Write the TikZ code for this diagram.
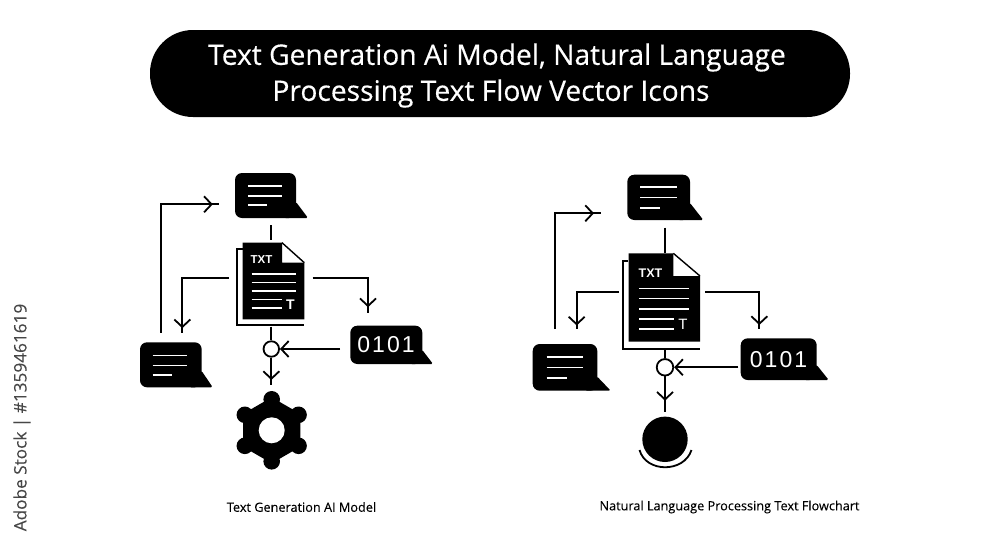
\documentclass[tikz,border=0pt]{standalone}
\usepackage{fontspec}
\setmainfont{Open Sans}
\usetikzlibrary{arrows.meta,decorations.markings}
\newfontfamily\iconfont{Liberation Sans}
\newfontfamily\bitfont[LetterSpace=9]{Liberation Sans}
\newfontfamily\titlefont[FakeBold=0.35]{Open Sans}
\newfontfamily\capfont[FakeBold=0.15]{Open Sans}
\tikzset{
    link/.style={line width=1.8pt},
    barb/.style={link,-{Straight Barb[length=7.5pt,width=16pt]}},
    midbarb/.style={link,decoration={markings,
        mark=at position #1 with {\arrow{Straight Barb[length=7.5pt,width=16pt]}}},
        postaction={decorate}},
    rule/.style={white,line width=1.6pt},
    bubblebody/.style={fill=black,rounded corners=7pt,inner sep=0pt,outer sep=0pt},
    hub/.style={circle,draw,fill=white,line width=1.8pt,inner sep=0pt},
    titleline/.style={text=white,inner sep=0pt,font=\titlefont\fontsize{28.2}{34}\selectfont},
    caption/.style={inner sep=0pt,font=\capfont\fontsize{12.7}{15}\selectfont}
}
\newcommand{\chatbox}[7]{
    \node[bubblebody,minimum width={#4-#2},minimum height={#5-#3}] (#1) at ({(#2+#4)/2},{(#3+#5)/2}) {};
    \fill[rounded corners=1.5pt] (#4,#7) -- (#6,#5) -- (#4-12,#5) -- (#4-12,#7) -- cycle;
}
\begin{document}
\begin{tikzpicture}[x=1pt,y=-1pt]
    \useasboundingbox (0,0) rectangle (1000,546);
    \node[fill=black,minimum width=700pt,minimum height=87pt,rounded corners=43pt] (title) at (500,73.5) {};
    \node[titleline] (titleA) at (497,57.5) {Text Generation Ai Model, Natural Language};
    \node[titleline] (titleB) at (491,93.5) {Processing Text Flow Vector Icons};
    \node[rotate=90,text=black!72,font=\capfont\fontsize{17.2}{19}\selectfont,inner sep=0pt] (stock) at (22,417.5) {Adobe Stock | \#1359461619};

    \chatbox{topL}{235}{173}{296}{218}{308}{202}
    \foreach \y/\e in {186/282,196/282,205/267}
        \draw[rule] (248,\y) -- (\e,\y);
    \chatbox{lowL}{140}{342.3}{201.7}{387.3}{212.7}{371}
    \foreach \y/\e in {355.3/187.3,365.3/187.3,375/172}
        \draw[rule] (152.7,\y) -- (\e,\y);
    \chatbox{binL}{350.3}{325.7}{422.3}{364}{433}{350}
    \node[white,font=\bitfont\fontsize{23}{24}\selectfont,inner sep=0pt] (bitsL) at (386,345) {0101};

    \draw[link] (242.7,249) -- (237.3,249) -- (237.3,325) -- (304,325);
    \fill (242.7,242.7) -- (282,242.7) -- (282,262.7) -- (304.3,262.7) -- (304.3,319.3) -- (242.7,319.3) -- cycle;
    \draw[line width=1.4pt] (282,242.7) -- (304.3,262.7);
    \node[white,font=\iconfont\bfseries\fontsize{11.5}{12}\selectfont,inner sep=0pt] (txtL) at (261.5,260) {TXT};
    \foreach \y/\e in {273.7/295.7,282.3/295.7,291/295.7,299.3/281.7,308/281.7}
        \draw[rule] (251.7,\y) -- (\e,\y);
    \node[white,font=\iconfont\bfseries\fontsize{14}{14}\selectfont,inner sep=0pt] (tL) at (290.3,304.5) {T};

    \node[hub,minimum size=15.5pt] (hubL) at (271.3,349) {};
    \coordinate (topLout) at (271.3,225);
    \coordinate (docLin) at (271.3,240);
    \coordinate (docLout) at (271.3,326.7);
    \coordinate (binLout) at (340,349);
    \coordinate (gearLin) at (271.3,385);
    \draw[link] (topLout) -- (docLin);
    \draw[link] (docLout) -- (hubL);
    \draw[barb] (binLout) -- (hubL);
    \draw[midbarb=-5pt] (hubL) -- (gearLin);
    \coordinate (lowLout) at (161,332.7);
    \coordinate (topLin) at (219.3,204.3);
    \draw[midbarb=-6.5pt] (lowLout) |- (topLin);
    \coordinate (docLw) at (229,278);
    \coordinate (lowLin) at (182.3,332.7);
    \draw[midbarb=-4.5pt] (docLw) -| (lowLin);
    \coordinate (docLe) at (312.7,278);
    \coordinate (binLin) at (368,312.7);
    \draw[midbarb=-5.5pt] (docLe) -| (binLin);

    \begin{scope}[shift={(271.7,430.3)}]
        \fill (30:33) -- (90:33) -- (150:33) -- (210:33) -- (270:33) -- (330:33) -- cycle;
        \foreach \a in {30,90,...,330}
            \fill (\a:31) circle (8.3);
        \node[circle,fill=white,minimum size=26pt,inner sep=0pt] (gearL) at (0,0) {};
    \end{scope}
    \node[caption] (capL) at (301.5,507) {Text Generation AI Model};

    \chatbox{topR}{627.3}{174.7}{690}{220}{703.3}{203}
    \foreach \y/\e in {186.7/676.7,197.3/676.7,207.7/660}
        \draw[rule] (640,\y) -- (\e,\y);
    \chatbox{lowR}{532.7}{344}{597.3}{390.7}{610.7}{376.7}
    \foreach \y/\e in {357/583.3,367.3/583.3,377.7/566.7}
        \draw[rule] (546.7,\y) -- (\e,\y);
    \chatbox{binR}{740.7}{338.3}{816.7}{380}{828.7}{365}
    \node[white,font=\bitfont\fontsize{23}{24}\selectfont,inner sep=0pt] (bitsR) at (778.5,360) {0101};

    \draw[link] (628,261) -- (622.7,261) -- (622.7,348.7) -- (700,348.7);
    \fill (628.7,253.3) -- (673.3,253.3) -- (673.3,276) -- (700,276) -- (700,341.7) -- (628.7,341.7) -- cycle;
    \draw[line width=1.4pt] (673.3,253.3) -- (700,276);
    \node[white,font=\iconfont\bfseries\fontsize{12.5}{13}\selectfont,inner sep=0pt] (txtR) at (650.5,273.5) {TXT};
    \foreach \y/\e in {288.3/689.3,298.3/689.3,308.7/689.3,318.7/674.3,328.7/674.3}
        \draw[rule] (639,\y) -- (\e,\y);
    \node[white,font=\iconfont\fontsize{15}{15}\selectfont,inner sep=0pt] (tR) at (683,324) {T};

    \node[hub,minimum size=16.5pt] (hubR) at (665,367.3) {};
    \coordinate (topRout) at (665,227.7);
    \coordinate (docRin) at (665,253.3);
    \coordinate (docRout) at (665,348.7);
    \coordinate (binRout) at (738.3,367.3);
    \coordinate (ballRin) at (665,411.7);
    \draw[link] (topRout) -- (docRin);
    \draw[link] (docRout) -- (hubR);
    \draw[barb] (binRout) -- (hubR);
    \draw[midbarb=-11pt] (hubR) -- (ballRin);
    \coordinate (lowRout) at (554.7,329);
    \coordinate (topRin) at (601,213.3);
    \draw[midbarb=-7pt] (lowRout) |- (topRin);
    \coordinate (docRw) at (619,291.7);
    \coordinate (lowRin) at (576.7,329);
    \draw[midbarb=-3.5pt] (docRw) -| (lowRin);
    \coordinate (docRe) at (705,291.7);
    \coordinate (binRin) at (759.3,329);
    \draw[midbarb=-4pt] (docRe) -| (binRin);

    \node[circle,fill=black,minimum size=45.4pt,inner sep=0pt] (ballR) at (665,439.3) {};
    \draw[link] (639.5,450) .. controls (646,473) and (684,473) .. (691.5,450);
    \node[caption] (capR) at (729.5,507) {Natural Language Processing Text Flowchart};
\end{tikzpicture}
\end{document}
